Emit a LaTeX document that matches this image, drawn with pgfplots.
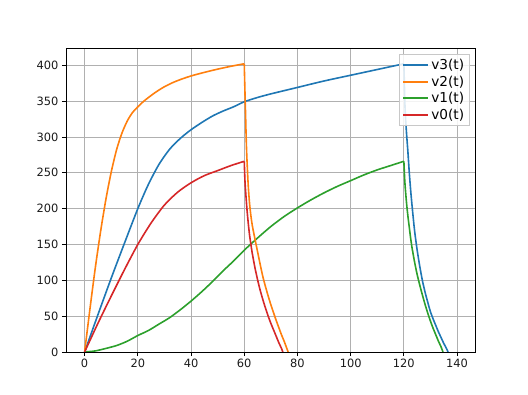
\documentclass[border=0pt]{standalone}
\usepackage{fontspec}
\setmainfont{DejaVu Sans}
\usepackage{pgfplots}
\pgfplotsset{compat=1.18}
\definecolor{c0}{HTML}{1F77B4}
\definecolor{c1}{HTML}{FF7F0E}
\definecolor{c2}{HTML}{2CA02C}
\definecolor{c3}{HTML}{D62728}
\definecolor{gridc}{HTML}{B0B0B0}
\begin{document}
\begin{tikzpicture}
\useasboundingbox (-66bp,-43bp) rectangle (462bp,352bp);
\begin{axis}[
  at={(0,0)}, anchor=south west,
  scale only axis, width=409.7bp, height=304bp,
  xmin=-7, xmax=147, ymin=0, ymax=424,
  xtick={0,20,...,140}, ytick={0,50,...,400},
  grid=major, major grid style={gridc, line width=0.8bp},
  axis line style={black, line width=0.8bp},
  tick align=outside, major tick length=4bp,
  tick style={black, line width=0.8bp},
  xtick pos=bottom, ytick pos=left,
  /pgf/number format/assume math mode=true,
  ticklabel style={font=\fontsize{11.46}{13}\selectfont, text=black!90},
  legend cell align=left,
  legend style={at={(1,1)}, anchor=north east, xshift=-6.4bp, yshift=-6.5bp,
    draw=gridc!70, fill=white, fill opacity=0.85, draw opacity=1, text opacity=1,
    font=\fontsize{13.7}{16}\selectfont, row sep=0.8bp, inner xsep=3bp, inner ysep=2.5bp},
  legend image code/.code={\draw[#1, line width=1.8bp, opacity=1] (0bp,0bp) -- (25bp,0bp);},
  ln/.style={line width=1.6bp, line join=round, smooth, tension=0.45},
]
\addplot[c0, ln] coordinates {(0,0)(5,52)(10,103)(15,152)(20,200)(24,234)(28,262)(32,283)(36,298)(40,310)(44,320)(48,329)(52,336)(56,342)(60,349)(65,355)(70,360)(80,369)(90,378)(100,386)(110,394)(120,402)};
\addlegendentry{v3(t)}
\addplot[c1, ln] coordinates {(0,0)(2,60)(4,117)(6,168)(8,213)(10,251)(12,282)(14,305)(16,322)(18,334)(20,342)(22,349)(24,355)(26,360.5)(28,365.5)(30,370)(33,375.5)(36,380)(40,385)(45,390)(50,394.5)(55,398.5)(60,402)};
\addlegendentry{v2(t)}
\addplot[c2, ln] coordinates {(0,0)(4,1.5)(8,5)(12,9)(16,15)(20,23)(24,30)(28,39)(32,48)(36,59)(40,71)(44,84)(48,98)(52,113)(56,127)(60,142)(65,159)(70,175)(75,189)(80,201)(85,212)(90,222)(95,231)(100,239)(105,247)(110,254)(115,260)(120,266)};
\addlegendentry{v1(t)}
\addplot[c3, ln] coordinates {(0,0)(5,40)(10,78)(15,115)(20,150)(25,180)(30,205)(35,223)(40,236)(45,246)(50,253)(55,260)(60,266)};
\addlegendentry{v0(t)}
\addplot[c0, ln, forget plot] coordinates {(120,402)(120.25,365)(120.5,335)(121,305)(121.5,280)(122,252)(122.5,228)(123,207)(124,170)(125,142)(126,119)(127,99)(128,83)(129,69)(130,56)(131,46)(132,37)(133,28)(134,20)(135,12)(136,5)(136.6,0)};
\addplot[c1, ln, forget plot] coordinates {(60,402)(60.25,365)(60.5,331)(60.75,295)(61,270)(61.5,232)(62,207)(62.5,190)(63,177)(64,158)(65,140)(66,122)(67,105)(68,91)(69,78)(70,66)(71,55)(72,44)(73,34)(74,24)(75,15)(76,5)(76.5,0)};
\addplot[c2, ln, forget plot] coordinates {(120,266)(120.25,245)(120.5,230)(121,208)(121.5,190)(122,175)(122.5,160)(123,147)(124,126)(125,108)(126,93)(127,79)(128,66)(129,54)(130,43)(131,33)(132,24)(133,15)(134,7)(134.7,0)};
\addplot[c3, ln, forget plot] coordinates {(60,266)(60.25,240)(60.5,225)(61,200)(61.5,180)(62,163)(62.5,150)(63,138)(64,118)(65,101)(66,86)(67,73)(68,61)(69,50)(70,40)(71,31)(72,22)(73,13)(74,5)(74.5,0)};
\end{axis}
\end{tikzpicture}
\end{document}
